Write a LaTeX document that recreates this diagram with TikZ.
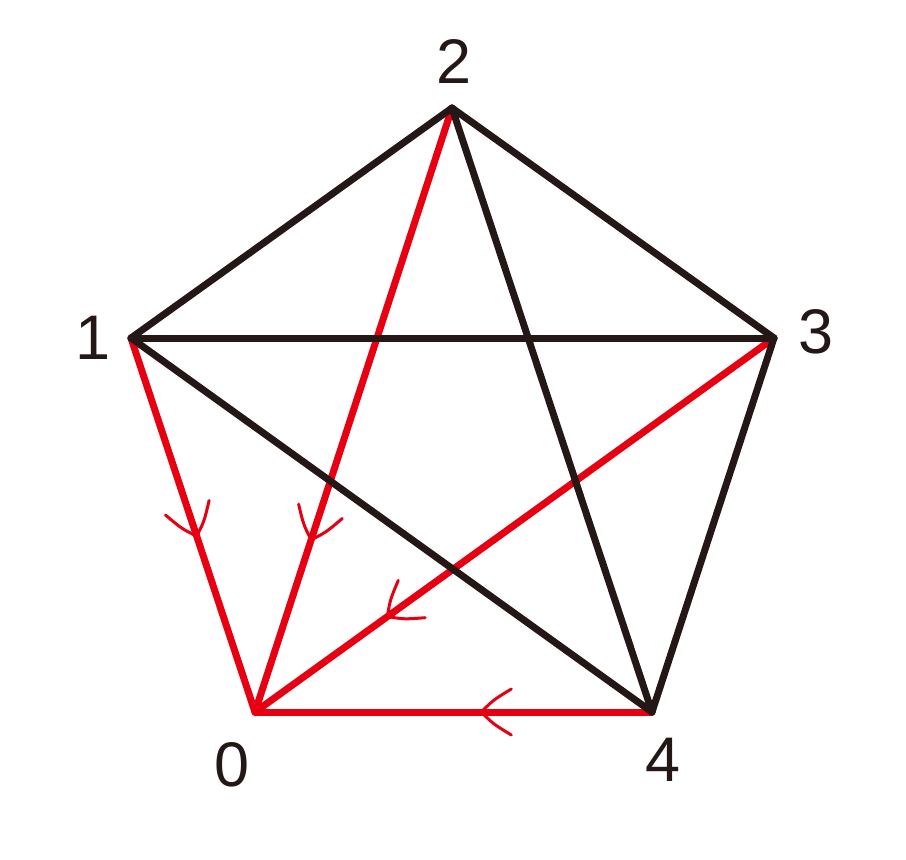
\documentclass[tikz,border=0pt]{standalone}
\usepackage{fontspec}
\setmainfont{Liberation Sans}
\usetikzlibrary{decorations.markings}
\definecolor{myred}{HTML}{E60012}
\definecolor{myblack}{HTML}{231815}
\tikzset{
  blackedge/.style={draw=myblack,line width=7pt,line cap=round,line join=round},
  rededge/.style={draw=myred,line width=7pt,line cap=round},
  lbl/.style={inner sep=0pt,text=myblack,font=\fontsize{63}{63}\selectfont},
  midarrow/.style={postaction={decorate,decoration={markings,
     mark=at position #1 with {\draw[myred,line width=3pt,line cap=round]
        (-30pt,23pt) .. controls (-12pt,12pt) .. (0pt,0pt)
        .. controls (-12pt,-12pt) .. (-30pt,-23pt);}}}}
}
\begin{document}
\begin{tikzpicture}[x=1pt,y=-1pt]
\useasboundingbox (0,0) rectangle (906,860);
\coordinate (v0) at (255,712);
\coordinate (v1) at (131,338);
\coordinate (v2) at (452,108);
\coordinate (v3) at (774,338);
\coordinate (v4) at (652,712);
\node[lbl] (l0) at (232,765) {0};
\node[lbl] (l1) at (93,338) {1};
\node[lbl] (l2) at (454,62) {2};
\node[lbl] (l3) at (816,332) {3};
\node[lbl] (l4) at (663,760) {4};
% red edges
\draw[rededge,midarrow=0.53] (v1) -- (v0);
\draw[rededge,midarrow=0.715] (v2) -- (v0);
\draw[rededge,midarrow=0.745] (v3) -- (v0);
\draw[rededge,midarrow=0.43] (v4) -- (v0);
% black edges
\draw[blackedge] (v1) -- (v2);
\draw[blackedge] (v2) -- (v3);
\draw[blackedge] (v3) -- (v4);
\draw[blackedge] (v1) -- (v3);
\draw[blackedge] (v1) -- (v4);
\draw[blackedge] (v2) -- (v4);
\end{tikzpicture}
\end{document}
